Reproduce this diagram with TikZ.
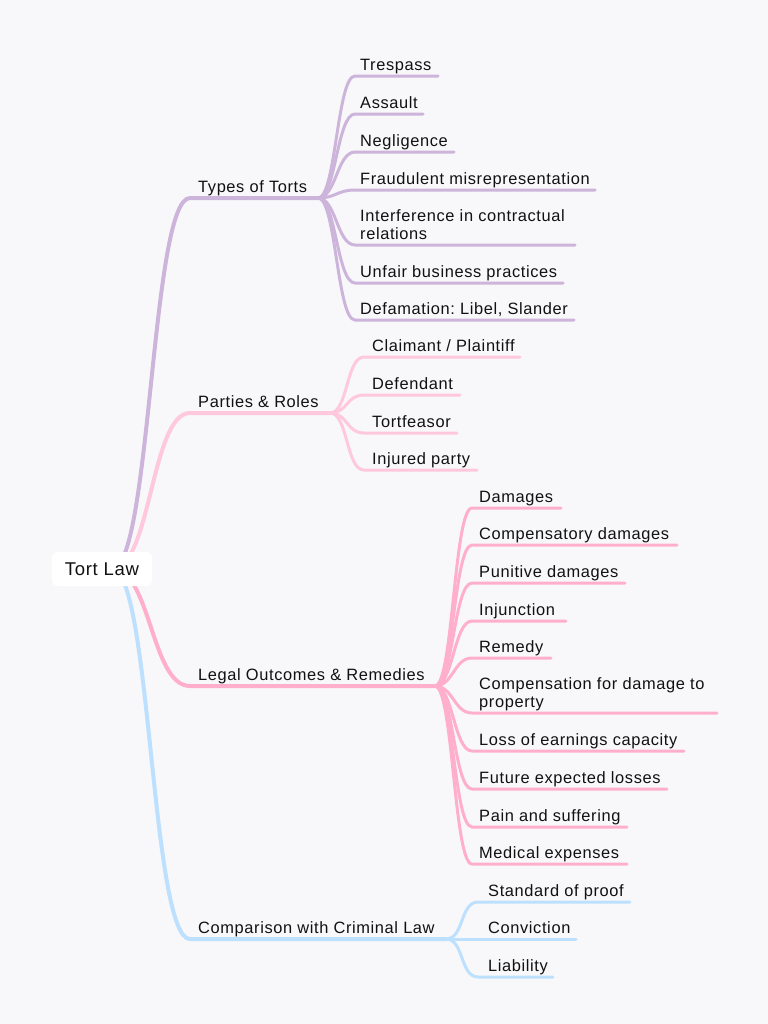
\documentclass[tikz,border=0pt]{standalone}
\usepackage{fontspec}
\setmainfont{Liberation Sans}[LetterSpace=3.8]
\frenchspacing
\definecolor{bgc}{HTML}{F8F8FA}
\definecolor{cpurple}{HTML}{CDB4DB}
\definecolor{cpinkl}{HTML}{FFC8DD}
\definecolor{cpink}{HTML}{FFAFCC}
\definecolor{cblue}{HTML}{BDE0FE}
\definecolor{txt}{HTML}{111111}
\pgfdeclarelayer{bgl}
\pgfdeclarelayer{links}
\pgfsetlayers{bgl,links,main}
\begin{document}
\begin{tikzpicture}[x=1bp,y=-1bp,
  lbl/.style={anchor=base west, inner sep=0pt, text=txt, font=\fontsize{16.4bp}{17.5bp}\selectfont, align=left},
  rootbox/.style={fill=white, rounded corners=5bp, minimum width=100bp, minimum height=34bp, inner sep=0pt, text=txt, font=\fontsize{18.5bp}{20bp}\selectfont},
  link1/.style={line width=4bp, line cap=round, out=0, in=180, out distance=39bp, in distance=39bp},
  link2/.style={line width=3bp, line cap=round, out=0, in=180, out distance=18bp, in distance=18bp}
]
\begin{pgfonlayer}{bgl}
\fill[bgc] (0,0) rectangle (768,1024);
\end{pgfonlayer}
\useasboundingbox (0,0) rectangle (768,1024);

% root
\node[rootbox] (root) at (102,569) {Tort Law};
\coordinate (rootout) at (112,569);

% first level
\node[lbl] (types) at (198,192) {Types of Torts};
\node[lbl] (parties) at (198,407) {Parties \& Roles};
\node[lbl] (legal) at (198,680) {Legal Outcomes \& Remedies};
\node[lbl] (comp) at (198,933) {Comparison with Criminal Law};
\coordinate (types-s) at (190,198); \coordinate (types-f) at (318,198);
\coordinate (parties-s) at (190,413); \coordinate (parties-f) at (330,413);
\coordinate (legal-s) at (190,686); \coordinate (legal-f) at (435,686);
\coordinate (comp-s) at (190,939); \coordinate (comp-f) at (446,939);

% Types of Torts children
\node[lbl] (t1) at (360,70) {Trespass};
\node[lbl] (t2) at (360,108) {Assault};
\node[lbl] (t3) at (360,146) {Negligence};
\node[lbl] (t4) at (360,184) {Fraudulent misrepresentation};
\node[lbl] (t5) at (360,239) {Interference in contractual\\relations};
\node[lbl] (t6) at (360,277) {Unfair business practices};
\node[lbl] (t7) at (360,314) {Defamation: Libel, Slander};
\coordinate (t1s) at (355,76);  \coordinate (t1e) at (438,76);
\coordinate (t2s) at (355,114); \coordinate (t2e) at (423,114);
\coordinate (t3s) at (355,152); \coordinate (t3e) at (454,152);
\coordinate (t4s) at (355,190); \coordinate (t4e) at (595,190);
\coordinate (t5s) at (355,245); \coordinate (t5e) at (575,245);
\coordinate (t6s) at (355,283); \coordinate (t6e) at (563,283);
\coordinate (t7s) at (355,320); \coordinate (t7e) at (574,320);

% Parties children
\node[lbl] (p1) at (372,351) {Claimant / Plaintiff};
\node[lbl] (p2) at (372,389) {Defendant};
\node[lbl] (p3) at (372,427) {Tortfeasor};
\node[lbl] (p4) at (372,464) {Injured party};
\coordinate (p1s) at (364,357); \coordinate (p1e) at (520,357);
\coordinate (p2s) at (364,395); \coordinate (p2e) at (460,395);
\coordinate (p3s) at (364,433); \coordinate (p3e) at (457,433);
\coordinate (p4s) at (364,470); \coordinate (p4e) at (477,470);

% Legal children
\node[lbl] (l1) at (479,502) {Damages};
\node[lbl] (l2) at (479,539) {Compensatory damages};
\node[lbl] (l3) at (479,577) {Punitive damages};
\node[lbl] (l4) at (479,615) {Injunction};
\node[lbl] (l5) at (479,652) {Remedy};
\node[lbl] (l6) at (479,707) {Compensation for damage to\\property};
\node[lbl] (l7) at (479,745) {Loss of earnings capacity};
\node[lbl] (l8) at (479,783) {Future expected losses};
\node[lbl] (l9) at (479,821) {Pain and suffering};
\node[lbl] (l10) at (479,858) {Medical expenses};
\coordinate (l1s) at (472,508);  \coordinate (l1e) at (561,508);
\coordinate (l2s) at (472,545);  \coordinate (l2e) at (677,545);
\coordinate (l3s) at (472,583);  \coordinate (l3e) at (625,583);
\coordinate (l4s) at (472,621);  \coordinate (l4e) at (566,621);
\coordinate (l5s) at (472,658);  \coordinate (l5e) at (551,658);
\coordinate (l6s) at (472,713);  \coordinate (l6e) at (717,713);
\coordinate (l7s) at (472,751);  \coordinate (l7e) at (684,751);
\coordinate (l8s) at (472,789);  \coordinate (l8e) at (667,789);
\coordinate (l9s) at (472,827);  \coordinate (l9e) at (627,827);
\coordinate (l10s) at (472,864); \coordinate (l10e) at (627,864);

% Comparison children
\node[lbl] (c1) at (488,896) {Standard of proof};
\node[lbl] (c2) at (488,933) {Conviction};
\node[lbl] (c3) at (488,971) {Liability};
\coordinate (c1s) at (478,902); \coordinate (c1e) at (630,902);
\coordinate (c2s) at (478,939); \coordinate (c2e) at (576,939);
\coordinate (c3s) at (478,977); \coordinate (c3e) at (553,977);

\begin{pgfonlayer}{links}
% first level links
\draw[link1, cpurple] (rootout) to (types-s) -- (types-f);
\draw[link1, cpinkl] (rootout) to (parties-s) -- (parties-f);
\draw[link1, cpink] (rootout) to (legal-s) -- (legal-f);
\draw[link1, cblue] (rootout) to (comp-s) -- (comp-f);
% second level
\foreach \i in {1,...,7} \draw[link2, cpurple] (types-f) to (t\i s) -- (t\i e);
\foreach \i in {1,...,4} \draw[link2, cpinkl] (parties-f) to (p\i s) -- (p\i e);
\foreach \i in {1,...,10} \draw[link2, cpink] (legal-f) to (l\i s) -- (l\i e);
\foreach \i in {1,...,3} \draw[link2, cblue] (comp-f) to (c\i s) -- (c\i e);
\end{pgfonlayer}
\end{tikzpicture}
\end{document}
